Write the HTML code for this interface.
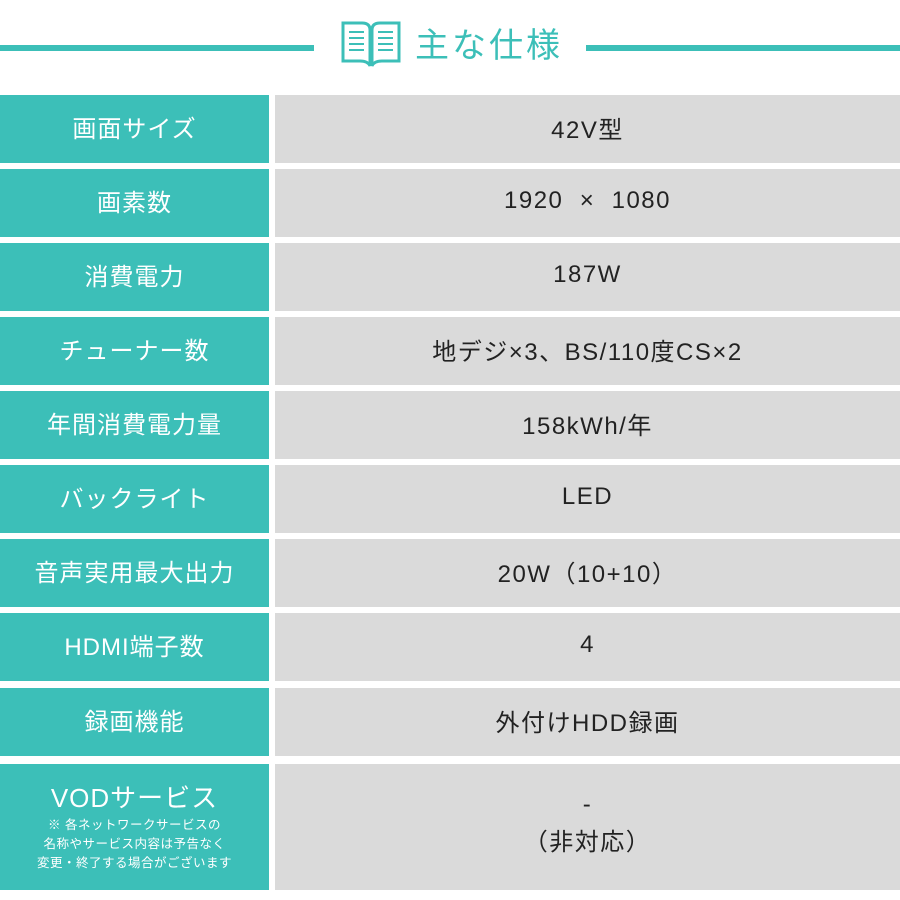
<!DOCTYPE html>
<html><head><meta charset="utf-8"><style>
*{margin:0;padding:0;box-sizing:border-box}
body{width:900px;height:900px;background:#fff;position:relative;overflow:hidden;font-family:"Liberation Sans","Noto Sans CJK JP",sans-serif}
.line{position:absolute;top:45px;height:6px;background:#3cbfb8}
.title{position:absolute;left:415px;top:23px;font-size:34px;color:#3cbfb8;line-height:46px;letter-spacing:3px}
.row{position:absolute;left:0;width:900px;height:68px}
.l{position:absolute;left:0;top:0;width:269px;height:100%;background:#3cbfb8;color:#fff;font-size:24px;display:flex;align-items:center;justify-content:center;letter-spacing:1px;padding-bottom:5px}
.r{position:absolute;left:275px;top:0;width:625px;height:100%;background:#dadada;color:#222;font-size:24px;display:flex;align-items:center;justify-content:center;letter-spacing:1.5px;padding-bottom:4px}
</style></head><body>
<div class="line" style="left:0;width:314px"></div>
<div class="line" style="left:586px;width:314px"></div>
<svg style="position:absolute;left:340px;top:20px" width="62" height="52" viewBox="0 0 62 52" fill="none" stroke="#3cbfb8" stroke-width="3">
<path d="M3 3 H22 Q30 3 30 10 V46 Q28 41 20 41 H3 Z"/>
<path d="M59 3 H40 Q32 3 32 10 V46 Q34 41 42 41 H59 Z"/>
<path d="M9 12H24M9 18H24M9 24H24M9 30H24M38 12H53M38 18H53M38 24H53M38 30H53" stroke-width="2"/>
</svg>
<div class="title">主な仕様</div>

<div class="row" style="top:95px"><div class="l">画面サイズ</div><div class="r">42V型</div></div>
<div class="row" style="top:169px"><div class="l">画素数</div><div class="r">1920&nbsp; ×&nbsp; 1080</div></div>
<div class="row" style="top:243px"><div class="l">消費電力</div><div class="r">187W</div></div>
<div class="row" style="top:317px"><div class="l">チューナー数</div><div class="r">地デジ×3、BS/110度CS×2</div></div>
<div class="row" style="top:391px"><div class="l">年間消費電力量</div><div class="r">158kWh/年</div></div>
<div class="row" style="top:465px"><div class="l">バックライト</div><div class="r">LED</div></div>
<div class="row" style="top:539px"><div class="l">音声実用最大出力</div><div class="r">20W（10+10）</div></div>
<div class="row" style="top:613px"><div class="l">HDMI端子数</div><div class="r">4</div></div>
<div class="row" style="top:688px"><div class="l">録画機能</div><div class="r">外付けHDD録画</div></div>
<div class="row" style="top:764px;height:126px">
<div class="l" style="flex-direction:column;justify-content:flex-start;padding-top:18px">
<div style="font-size:26px;line-height:32px">VODサービス</div>
<div style="font-size:12.5px;line-height:19px;text-align:center;margin-top:2px;letter-spacing:0.5px">※ 各ネットワークサービスの<br>名称やサービス内容は予告なく<br>変更・終了する場合がございます</div>
</div>
<div class="r" style="flex-direction:column;line-height:38px;padding-bottom:6px">-<br><div>（非対応）</div></div>
</div>
</body></html>
